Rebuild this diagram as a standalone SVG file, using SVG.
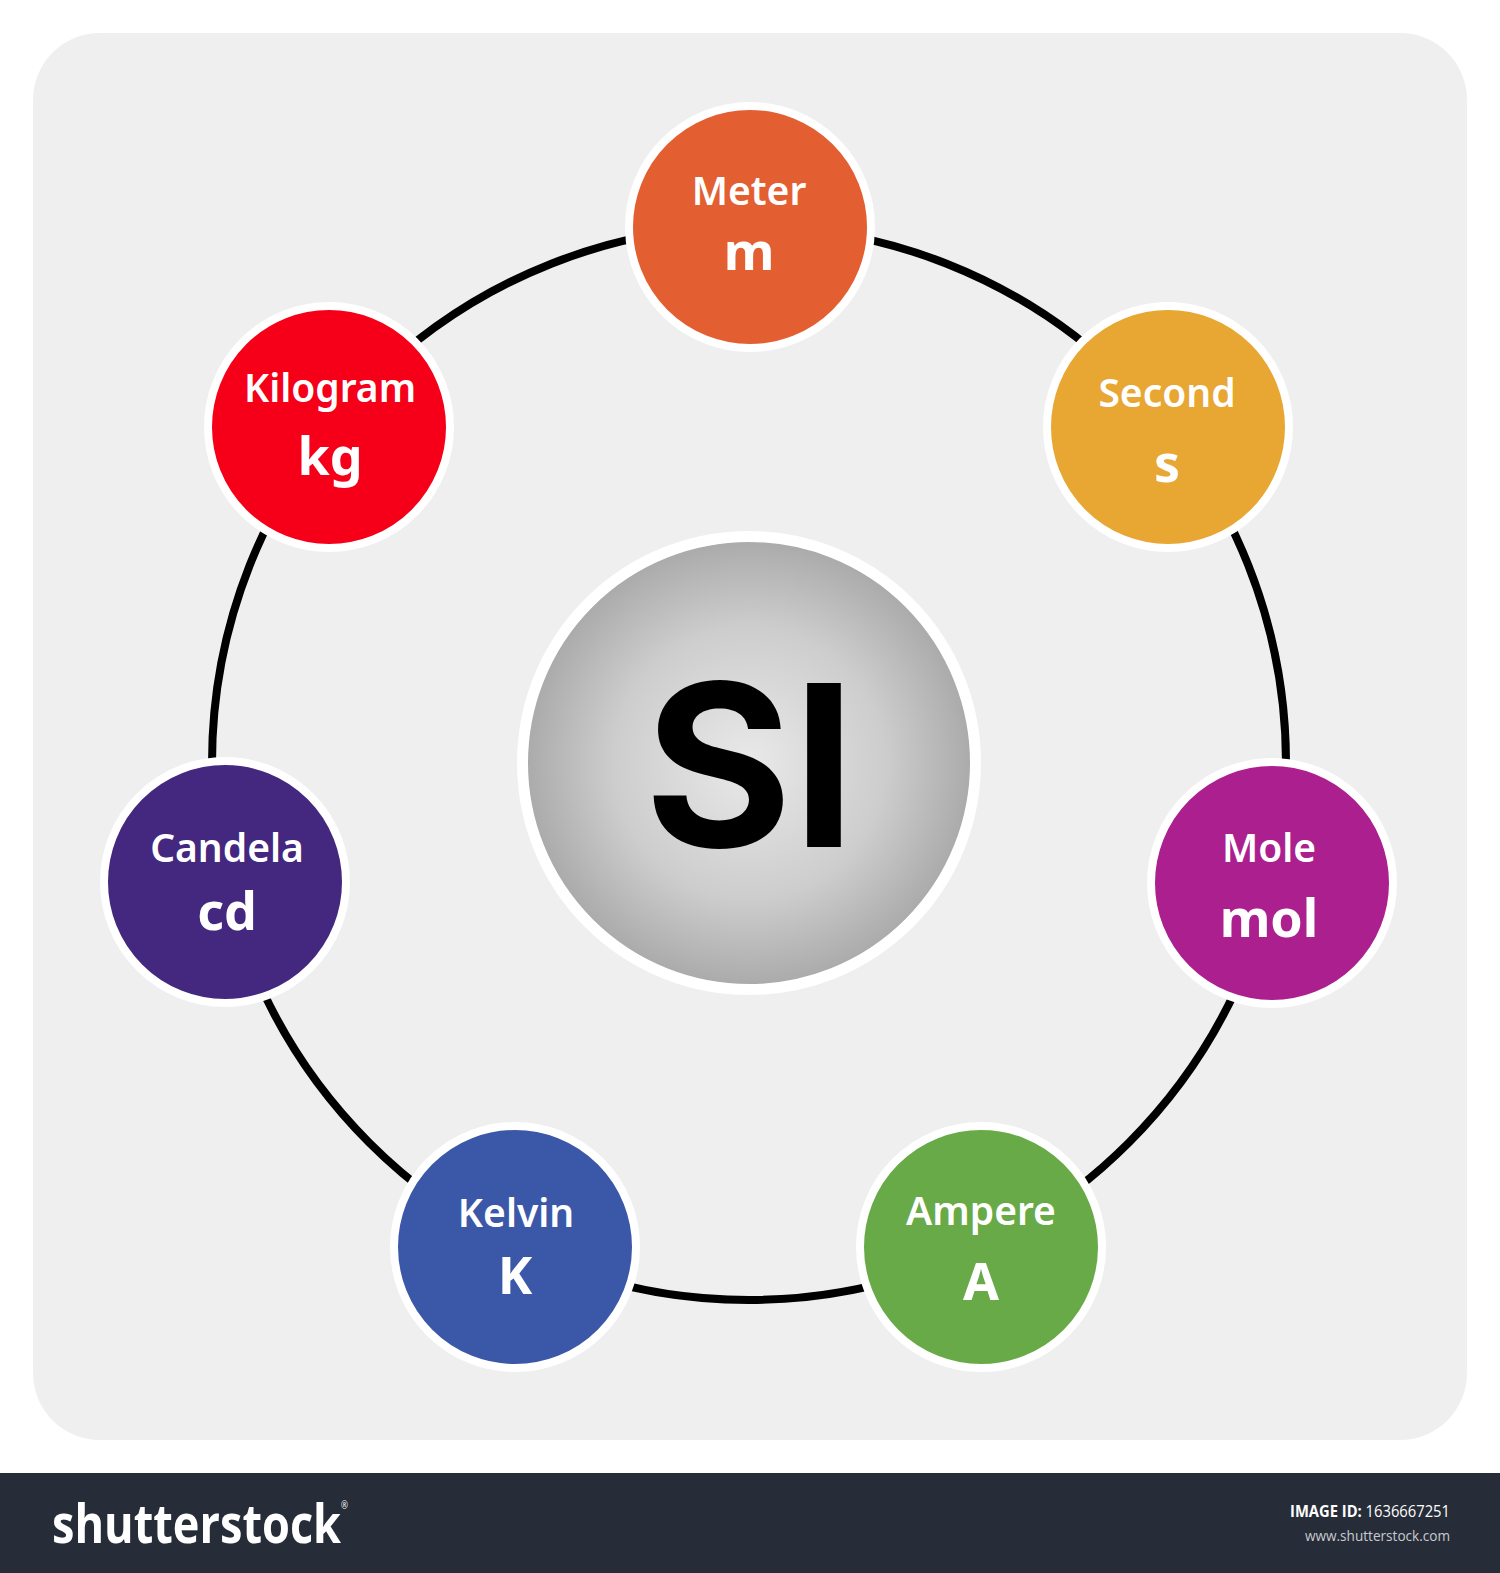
<svg xmlns="http://www.w3.org/2000/svg" width="1500" height="1573" viewBox="0 0 1500 1573">
  <defs>
    <radialGradient id="siGrad" cx="50%" cy="50%" r="50%">
      <stop offset="0" stop-color="#e9e9e9"/>
      <stop offset="0.6" stop-color="#cdcdcd"/>
      <stop offset="1" stop-color="#a9a9a9"/>
    </radialGradient>
    <style>
      .node { stroke: #ffffff; stroke-width: 8; }
      .name { font-family: "Noto Sans", "Open Sans", sans-serif; font-weight: 600; font-size: 39px; fill: #ffffff; text-anchor: middle; }
      .sym { font-family: "Noto Sans", "Open Sans", sans-serif; font-weight: 700; font-size: 52px; fill: #ffffff; text-anchor: middle; }
      .ring { fill: none; stroke: #000000; stroke-width: 8; }
    </style>
  </defs>

  <rect x="0" y="0" width="1500" height="1573" fill="#ffffff"/>
  <rect x="33" y="33" width="1434" height="1407" rx="67" ry="67" fill="#efefef"/>

  <g id="connectors">
    <circle class="ring" cx="749" cy="763" r="537"/>
  </g>

  <g id="node-si">
    <circle cx="749" cy="763" r="226.5" fill="url(#siGrad)" stroke="#ffffff" stroke-width="11"/>
    <text x="750" y="847" font-family="Inter, 'Open Sans', sans-serif" font-weight="700" font-size="226" fill="#000000" text-anchor="middle">SI</text>
  </g>

  <g id="node-meter">
    <circle class="node" cx="750" cy="227" r="121" fill="#e35f32"/>
    <text class="name" x="749" y="205">Meter</text>
    <text class="sym" x="749" y="270">m</text>
  </g>

  <g id="node-second">
    <circle class="node" cx="1168" cy="427" r="121" fill="#e8a633"/>
    <text class="name" x="1167" y="407">Second</text>
    <text class="sym" x="1167" y="482">s</text>
  </g>

  <g id="node-mole">
    <circle class="node" cx="1272" cy="883" r="121" fill="#ab1f8f"/>
    <text class="name" x="1269" y="862">Mole</text>
    <text class="sym" x="1269" y="937">mol</text>
  </g>

  <g id="node-ampere">
    <circle class="node" cx="981" cy="1247" r="121" fill="#69aa48"/>
    <text class="name" x="981" y="1225">Ampere</text>
    <text class="sym" x="981" y="1300">A</text>
  </g>

  <g id="node-kelvin">
    <circle class="node" cx="515" cy="1247" r="121" fill="#3b58a8"/>
    <text class="name" x="516" y="1227">Kelvin</text>
    <text class="sym" x="515" y="1294">K</text>
  </g>

  <g id="node-candela">
    <circle class="node" cx="225" cy="882" r="121" fill="#44277e"/>
    <text class="name" x="227" y="862">Candela</text>
    <text class="sym" x="227" y="930">cd</text>
  </g>

  <g id="node-kilogram">
    <circle class="node" cx="329" cy="427" r="121" fill="#f50018"/>
    <text class="name" x="330" y="402">Kilogram</text>
    <text class="sym" x="330" y="475">kg</text>
  </g>

  <g id="footer">
    <rect x="0" y="1473" width="1500" height="100" fill="#272d38"/>
    <text x="52" y="1543" font-family="'Open Sans', 'Noto Sans', sans-serif" font-weight="700" font-size="54" fill="#ffffff" textLength="296" lengthAdjust="spacingAndGlyphs">shutterstock<tspan font-size="10" font-weight="400" dy="-34">®</tspan></text>
    <text x="1450" y="1517" font-family="'Open Sans', 'Noto Sans', sans-serif" font-size="16" fill="#ffffff" text-anchor="end" textLength="160" lengthAdjust="spacingAndGlyphs"><tspan font-weight="700">IMAGE ID:</tspan> 1636667251</text>
    <text x="1450" y="1541" font-family="'Open Sans', 'Noto Sans', sans-serif" font-size="14" fill="#c9cbd0" text-anchor="end" textLength="145" lengthAdjust="spacingAndGlyphs">www.shutterstock.com</text>
  </g>
</svg>
